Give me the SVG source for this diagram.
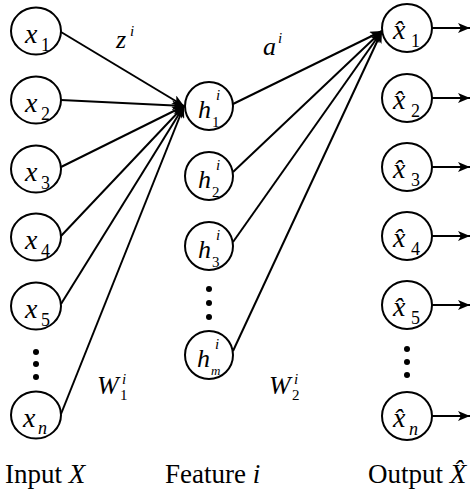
<svg xmlns="http://www.w3.org/2000/svg" width="474" height="495" viewBox="0 0 474 495">
<defs>
<style>
.n{fill:#fff;stroke:#000;stroke-width:2}
.c{stroke:#000;stroke-width:2;fill:none}
.d{fill:#000}
</style>
<marker id="ah" viewBox="0 0 12 10" refX="12" refY="5" markerWidth="12" markerHeight="10" markerUnits="userSpaceOnUse" orient="auto">
<path d="M0,0 L12,5 L0,10 L3,5 z" fill="#000"/>
</marker>
</defs>
<g id="connectors" class="c" marker-end="url(#ah)">
<line x1="61" y1="32" x2="184" y2="106"/>
<line x1="61" y1="100" x2="184" y2="106"/>
<line x1="61" y1="167" x2="184" y2="106"/>
<line x1="61" y1="236" x2="184" y2="106"/>
<line x1="61" y1="304" x2="184" y2="106"/>
<line x1="61" y1="414" x2="184" y2="106"/>
<line x1="233" y1="104" x2="382" y2="31"/>
<line x1="233" y1="172" x2="382" y2="31"/>
<line x1="233" y1="242" x2="382" y2="31"/>
<line x1="233" y1="351" x2="382" y2="31"/>
<line x1="432" y1="28" x2="470" y2="28"/>
<line x1="432" y1="98" x2="470" y2="98"/>
<line x1="432" y1="167" x2="470" y2="167"/>
<line x1="432" y1="236" x2="470" y2="236"/>
<line x1="432" y1="305" x2="470" y2="305"/>
<line x1="432" y1="416" x2="470" y2="416"/>
</g>
<g id="x1"><ellipse class="n" cx="36" cy="31" rx="25" ry="23.5"/></g>
<g id="x2"><ellipse class="n" cx="36" cy="100" rx="25" ry="23.5"/></g>
<g id="x3"><ellipse class="n" cx="36" cy="169" rx="25" ry="23.5"/></g>
<g id="x4"><ellipse class="n" cx="36" cy="237" rx="25" ry="23.5"/></g>
<g id="x5"><ellipse class="n" cx="36" cy="306" rx="25" ry="23.5"/></g>
<g id="xdots" class="d"><circle cx="36" cy="352" r="3"/><circle cx="36" cy="364" r="3"/><circle cx="36" cy="377" r="3"/></g>
<g id="xn"><ellipse class="n" cx="36" cy="415" rx="25" ry="23.5"/></g>
<g id="h1"><ellipse class="n" cx="209" cy="106" rx="24" ry="24"/></g>
<g id="h2"><ellipse class="n" cx="209" cy="176" rx="24" ry="24"/></g>
<g id="h3"><ellipse class="n" cx="209" cy="246" rx="24" ry="24"/></g>
<g id="hdots" class="d"><circle cx="209" cy="289" r="3"/><circle cx="209" cy="303" r="3"/><circle cx="209" cy="317" r="3"/></g>
<g id="hm"><ellipse class="n" cx="209" cy="355" rx="24" ry="24"/></g>
<g id="o1"><ellipse class="n" cx="407" cy="28" rx="25" ry="24"/></g>
<g id="o2"><ellipse class="n" cx="407" cy="98" rx="25" ry="24"/></g>
<g id="o3"><ellipse class="n" cx="407" cy="167" rx="25" ry="24"/></g>
<g id="o4"><ellipse class="n" cx="407" cy="236" rx="25" ry="24"/></g>
<g id="o5"><ellipse class="n" cx="407" cy="305" rx="25" ry="24"/></g>
<g id="odots" class="d"><circle cx="407" cy="349" r="3"/><circle cx="407" cy="362" r="3"/><circle cx="407" cy="375" r="3"/></g>
<g id="on"><ellipse class="n" cx="407" cy="416" rx="25" ry="24"/></g>
<text font-family="Liberation Serif" font-size="28" font-style="italic" x="25" y="43">x</text><text font-family="Liberation Serif" font-size="18" x="41" y="51">1</text>
<text font-family="Liberation Serif" font-size="28" font-style="italic" x="25" y="112">x</text><text font-family="Liberation Serif" font-size="18" x="41" y="120">2</text>
<text font-family="Liberation Serif" font-size="28" font-style="italic" x="25" y="181">x</text><text font-family="Liberation Serif" font-size="18" x="41" y="189">3</text>
<text font-family="Liberation Serif" font-size="28" font-style="italic" x="25" y="249">x</text><text font-family="Liberation Serif" font-size="18" x="41" y="257">4</text>
<text font-family="Liberation Serif" font-size="28" font-style="italic" x="25" y="318">x</text><text font-family="Liberation Serif" font-size="18" x="41" y="326">5</text>
<text font-family="Liberation Serif" font-size="28" font-style="italic" x="23" y="427">x</text><text font-family="Liberation Serif" font-size="18" font-style="italic" x="38" y="434">n</text>
<text font-family="Liberation Serif" font-size="26" font-style="italic" x="198" y="118">h</text><text font-family="Liberation Serif" font-size="15" font-style="italic" x="216" y="100">i</text><text font-family="Liberation Serif" font-size="15" x="212" y="127">1</text>
<text font-family="Liberation Serif" font-size="26" font-style="italic" x="198" y="188">h</text><text font-family="Liberation Serif" font-size="15" font-style="italic" x="216" y="170">i</text><text font-family="Liberation Serif" font-size="15" x="212" y="197">2</text>
<text font-family="Liberation Serif" font-size="26" font-style="italic" x="198" y="258">h</text><text font-family="Liberation Serif" font-size="15" font-style="italic" x="216" y="240">i</text><text font-family="Liberation Serif" font-size="15" x="212" y="267">3</text>
<text font-family="Liberation Serif" font-size="26" font-style="italic" x="197" y="367">h</text><text font-family="Liberation Serif" font-size="15" font-style="italic" x="215" y="349">i</text><text font-family="Liberation Serif" font-size="13" font-style="italic" x="211" y="375">m</text>
<text font-family="Liberation Serif" font-size="28" font-style="italic" x="393" y="39">x&#x302;</text><text font-family="Liberation Serif" font-size="18" x="411" y="47">1</text>
<text font-family="Liberation Serif" font-size="28" font-style="italic" x="393" y="109">x&#x302;</text><text font-family="Liberation Serif" font-size="18" x="411" y="117">2</text>
<text font-family="Liberation Serif" font-size="28" font-style="italic" x="393" y="178">x&#x302;</text><text font-family="Liberation Serif" font-size="18" x="411" y="186">3</text>
<text font-family="Liberation Serif" font-size="28" font-style="italic" x="393" y="247">x&#x302;</text><text font-family="Liberation Serif" font-size="18" x="411" y="255">4</text>
<text font-family="Liberation Serif" font-size="28" font-style="italic" x="393" y="316">x&#x302;</text><text font-family="Liberation Serif" font-size="18" x="411" y="324">5</text>
<text font-family="Liberation Serif" font-size="28" font-style="italic" x="393" y="427">x&#x302;</text><text font-family="Liberation Serif" font-size="18" font-style="italic" x="409" y="435">n</text>
<text font-family="Liberation Serif" font-size="26" font-style="italic" x="116" y="48">z</text><text font-family="Liberation Serif" font-size="15" font-style="italic" x="130" y="36">i</text>
<text font-family="Liberation Serif" font-size="26" font-style="italic" x="263" y="55">a</text><text font-family="Liberation Serif" font-size="15" font-style="italic" x="278" y="43">i</text>
<text font-family="Liberation Serif" font-size="26" font-style="italic" x="97" y="394">W</text><text font-family="Liberation Serif" font-size="15" font-style="italic" x="122" y="384">i</text><text font-family="Liberation Serif" font-size="15" x="120" y="400">1</text>
<text font-family="Liberation Serif" font-size="26" font-style="italic" x="269" y="394">W</text><text font-family="Liberation Serif" font-size="15" font-style="italic" x="294" y="384">i</text><text font-family="Liberation Serif" font-size="15" x="292" y="400">2</text>
<text font-family="Liberation Serif" font-size="27" x="5" y="483">Input <tspan font-style="italic">X</tspan></text>
<text font-family="Liberation Serif" font-size="27" x="165" y="483">Feature <tspan font-style="italic">i</tspan></text>
<text font-family="Liberation Serif" font-size="27" x="368" y="483">Output <tspan font-style="italic">X&#x302;</tspan></text>
</svg>
